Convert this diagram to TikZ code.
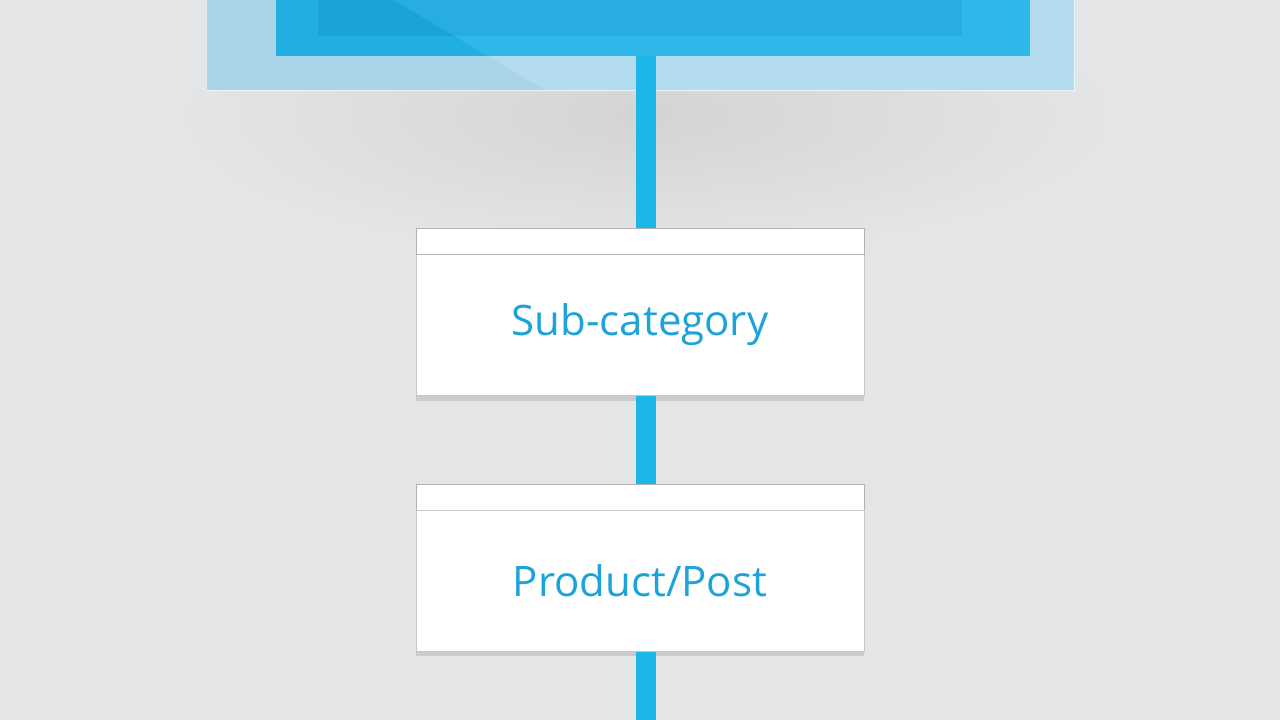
\documentclass[tikz,border=0pt]{standalone}
\usepackage{fontspec}
\setmainfont{Open Sans}
\usepackage{xcolor}
\usepackage{tikz}
\usetikzlibrary{positioning,shadows,fit}

\definecolor{bggrey}{HTML}{E4E5E7}
\definecolor{paleblue}{HTML}{B0DBEF}
\definecolor{midblue}{HTML}{22B5E8}
\definecolor{deepblue}{HTML}{1CA9DE}
\definecolor{linkblue}{HTML}{1DB6E8}
\definecolor{textblue}{HTML}{1BA3DA}

\begin{document}
\begin{tikzpicture}[x=1pt,y=-1pt]
		\tikzstyle{outerbox}=[draw=white!70!paleblue, fill=paleblue, minimum width=868pt, minimum height=110pt, inner sep=0pt]
		\tikzstyle{midbox}=[draw=none, fill=midblue, minimum width=754pt, minimum height=76pt, inner sep=0pt]
		\tikzstyle{innerbox}=[draw=none, fill=deepblue, minimum width=644pt, minimum height=56pt, inner sep=0pt]
		\tikzstyle{card}=[draw=black!22, fill=white, minimum width=448pt, minimum height=141pt, inner sep=0pt, font=\fontsize{42}{50}\selectfont, text=textblue, drop shadow={shadow xshift=0pt, shadow yshift=-5pt, opacity=.25}]
		\tikzstyle{cardhead}=[draw=black!30, fill=white, minimum width=448pt, minimum height=26pt, inner sep=0pt]
		\tikzstyle{link}=[draw=linkblue, line width=20pt]

		% page
		\fill[bggrey] (0,0) rectangle (1280,720);
		\clip (0,0) rectangle (1280,720);
		\shade[inner color=black!17, outer color=bggrey] (646,115) ellipse [x radius=470pt, y radius=140pt];

		% top box (cut off)
		\begin{scope}
			\node [outerbox] (top) at (640,35) {};
			\node [midbox] (topmid) at (653,18) {};
			\node [innerbox] (topin) at (640,8) {};
			\fill[black, opacity=.03] (206,-5) -- (385,-5) -- (545,90) -- (206,90) -- cycle;
			\fill[white, opacity=.05] (385,-5) -- (1074,-5) -- (1074,90) -- (545,90) -- cycle;
		\end{scope}

		% cards
		\node [card] (sub) at (640,325) {Sub-category};
		\node [cardhead] (subhead) [above=0pt of sub] {};

		\node [cardhead] (prodhead) [below=88pt of sub] {};
		\node [card] (prod) [below=0pt of prodhead] {Product/Post};

		\coordinate (axis) at (646,0);
		\coordinate (bottom) at (646,730);

		% links
		\draw [link] (topmid.south -| axis) -- (subhead.north -| axis);
		\draw [link] (sub.south -| axis) -- (prodhead.north -| axis);
		\draw [link] (prod.south -| axis) -- (bottom);
\end{tikzpicture}
\end{document}
